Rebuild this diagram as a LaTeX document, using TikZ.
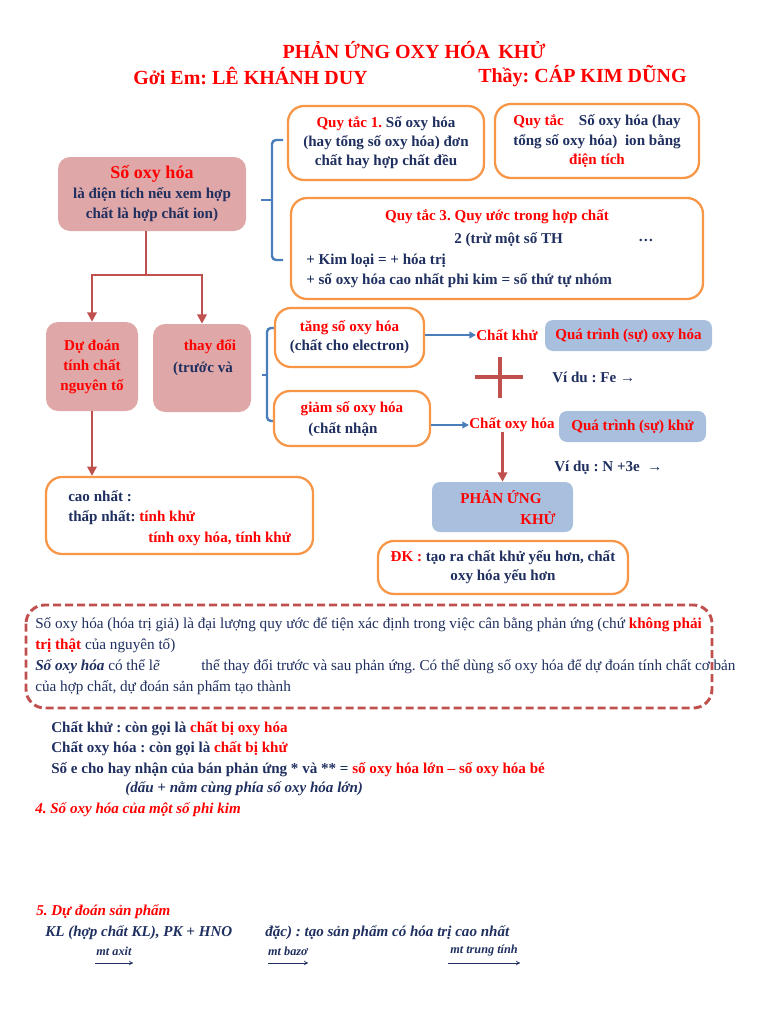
\documentclass[tikz,border=0pt]{standalone}
\usepackage{fontspec}
\setmainfont{Liberation Serif}
\usetikzlibrary{arrows.meta,positioning}
\frenchspacing
\newlength\px
\setlength\px{0.75pt}
\definecolor{navy}{RGB}{31,47,95}
\definecolor{hotred}{RGB}{255,0,0}
\definecolor{rosefill}{RGB}{223,167,167}
\definecolor{skyfill}{RGB}{168,191,222}
\definecolor{ruleorange}{RGB}{247,150,70}
\definecolor{braceblue}{RGB}{74,126,187}
\definecolor{darkred}{RGB}{192,80,77}
\tikzset{
  rose box/.style   = {rounded corners=9, fill=rosefill, inner sep=0pt, align=center,
                       text=navy, font=\bfseries\fontsize{11.3}{15}\selectfont},
  rule box/.style   = {rounded corners=12, draw=ruleorange, line width=1.7pt, fill=white,
                       inner sep=0pt, align=center, text=navy,
                       font=\bfseries\fontsize{11.3}{14.3}\selectfont},
  sky box/.style    = {rounded corners=6, fill=skyfill, inner sep=0pt, text=hotred,
                       font=\bfseries\fontsize{11.3}{14.3}\selectfont},
  body text/.style  = {inner sep=0pt, text=navy, font=\bfseries\fontsize{11.3}{14.3}\selectfont},
  red text/.style   = {inner sep=0pt, text=hotred, font=\bfseries\fontsize{11.3}{14.3}\selectfont},
  plain text/.style = {inner sep=0pt, text=navy, font=\fontsize{11.4}{14}\selectfont},
  slant text/.style = {inner sep=0pt, text=navy, font=\bfseries\itshape\fontsize{11.3}{14.3}\selectfont},
  tiny text/.style  = {inner sep=0pt, text=navy, font=\bfseries\itshape\fontsize{9.2}{10}\selectfont},
  head text/.style  = {inner sep=0pt, text=hotred, font=\bfseries\fontsize{15}{18}\selectfont},
  red arrow/.style  = {-{Triangle[length=7pt,width=7pt]}, draw=darkred, line width=1.7pt},
  red line/.style   = {draw=darkred, line width=1.7pt},
  blue arrow/.style = {-{Triangle[length=5pt,width=5pt]}, draw=braceblue, line width=1.6pt},
  thin arrow/.style = {-{To[length=3pt,width=3.5pt]}, draw=navy, line width=0.6pt},
  brace line/.style = {draw=braceblue, line width=1.8pt, rounded corners=3},
  plus line/.style  = {draw=darkred, line width=2.4pt},
}

\begin{document}
\begin{tikzpicture}[x=0.75pt,y=-0.75pt]
  \useasboundingbox (0,0) rectangle (768,1024);

  % heading
  \node[head text] (title) at (414,50) {PHẢN ỨNG OXY HÓA\, KHỬ};
  \node[head text,anchor=west] (student) at (133,76) {Gởi Em: LÊ KHÁNH DUY};
  \node[head text,anchor=west] (teacher) at (478,76) {Thầy: CÁP KIM DŨNG};

  % definition and rules
  \node[rose box,minimum width=188\px,minimum height=74\px] (ox) at (152,194)
       {{\color{hotred}\fontsize{13.5}{17}\selectfont Số oxy hóa}\\là điện tích nếu xem hợp\\chất là hợp chất ion)};
  \draw[brace line] (283,140) -- (272,140) -- (272,260) -- (283,260);
  \draw[brace line] (272,200) -- (261,200);
  \node[rule box,minimum width=196\px,minimum height=74\px] (rule1) at (386,143)
       {{\color{hotred}Quy tắc 1.} Số oxy hóa\\(hay tổng số oxy hóa) đơn\\chất hay hợp chất đều};
  \node[rule box,minimum width=204\px,minimum height=74\px] (rule2) at (597,141)
       {{\color{hotred}Quy tắc}\quad Số oxy hóa (hay\\tổng số oxy hóa)\ \ ion bằng\\{\color{hotred}điện tích}};
  \node[rule box,minimum width=412\px,minimum height=101\px] (rule3) at (497,248.5) {};
  \node[red text] (rule3a) at (497,217) {Quy tắc 3. Quy ước trong hợp chất};
  \node[body text,anchor=west] (rule3b) at (454,240) {2 (trừ một số TH};
  \node[body text] (rule3c) at (646,240) {…};
  \node[body text,anchor=west] (rule3d) at (306,261) {+ Kim loại = + hóa trị};
  \node[body text,anchor=west] (rule3e) at (306,281) {+ số oxy hóa cao nhất phi kim = số thứ tự nhóm};

  % uses
  \node[rose box,minimum width=92\px,minimum height=89\px,text=hotred] (guess) at (92,366.5)
       {Dự đoán\\tính chất\\nguyên tố};
  \node[rose box,minimum width=98\px,minimum height=88\px] (change) at (202,368) {};
  \node[red text] (changea) at (210,347) {thay đổi};
  \node[body text] (changeb) at (203,369) {(trước và};
  \coordinate (split) at (146,275);
  \draw[red line] (split |- ox.south) -- (split);
  \draw[red arrow] (split) -| (guess.north);
  \draw[red arrow] (split) -| (change.north);

  % increase / decrease
  \draw[brace line] (276,328) -- (267,328) -- (267,421) -- (276,421);
  \draw[brace line] (267,375) -- (262,375);
  \node[rule box,minimum width=149\px,minimum height=59\px] (up) at (349.5,337.5)
       {{\color{hotred}tăng số oxy hóa}\\(chất cho electron)};
  \node[rule box,minimum width=156\px,minimum height=55\px] (down) at (352,418.5) {};
  \node[red text] (downa) at (352,409) {giảm số oxy hóa};
  \node[body text] (downb) at (343,430) {(chất nhận};

  \node[red text,anchor=west] (reducer) at (476,335) {Chất khử};
  \draw[blue arrow] (up.east |- reducer.west) -- (reducer.west);
  \node[sky box,minimum width=167\px,minimum height=31\px] (oxproc) at (628.5,335.5) {Quá trình (sự) oxy hóa};

  \draw[plus line] (475,377) -- (523,377);
  \draw[plus line] (500,357) -- (500,398);
  \node[body text,anchor=west] (exfe) at (552,377) {Ví du : Fe →};

  \node[red text,anchor=west] (oxidant) at (469,425) {Chất oxy hóa};
  \draw[blue arrow] (down.east |- oxidant.west) -- (oxidant.west);
  \node[sky box,minimum width=147\px,minimum height=31\px] (redproc) at (632.5,426.5) {Quá trình (sự) khử};
  \node[body text,anchor=west] (exn) at (554,468) {Ví dụ : N +3e\ \ →};

  % reaction
  \node[sky box,minimum width=141\px,minimum height=50\px] (redox) at (502.5,507) {};
  \node[red text] (redoxa) at (501,497) {PHẢN ỨNG};
  \node[red text] (redoxb) at (538,518) {KHỬ};
  \draw[red arrow] (redox.north |- oxidant.south) -- (redox.north);
  \node[rule box,minimum width=250\px,minimum height=53\px] (cond) at (503,567.5)
       {{\color{hotred}ĐK :} tạo ra chất khử yếu hơn, chất\\oxy hóa yếu hơn};

  % highest / lowest
  \node[rule box,minimum width=267\px,minimum height=77\px] (extreme) at (179.5,515.5) {};
  \draw[red arrow] (guess.south) -- (guess.south |- extreme.north);
  \node[body text,anchor=west] (high) at (68,496) {cao nhất :};
  \node[body text,anchor=west] (low) at (68,518) {thấp nhất: {\color{hotred}tính khử}};
  \node[red text,anchor=west] (mid) at (148,539) {tính oxy hóa, tính khử};

  % note
  \draw[draw=darkred,line width=2.2pt,rounded corners=14,dash pattern=on 6pt off 3pt] (26,605) rectangle (712,708);
  \node[plain text,anchor=west] (note1) at (35,625)
       {Số oxy hóa (hóa trị giả) là đại lượng quy ước để tiện xác định trong việc cân bằng phản ứng (chứ {\bfseries\color{hotred}không phải}};
  \node[plain text,anchor=west] (note2) at (35,646) {{\bfseries\color{hotred}trị thật} của nguyên tố)};
  \node[plain text,anchor=west] (note3) at (35,667) {{\bfseries\itshape Số oxy hóa} có thể l{\itshape ẽ}};
  \node[plain text,anchor=west] (note4) at (201,667)
       {thể thay đổi trước và sau phản ứng. Có thể dùng số oxy hóa để dự đoán tính chất cơ bản};
  \node[plain text,anchor=west] (note5) at (35,688) {của hợp chất, dự đoán sản phẩm tạo thành};

  % remarks
  \node[body text,anchor=west] (rem1) at (51,729) {Chất khử : còn gọi là {\color{hotred}chất bị oxy hóa}};
  \node[body text,anchor=west] (rem2) at (51,749) {Chất oxy hóa : còn gọi là {\color{hotred}chất bị khử}};
  \node[body text,anchor=west] (rem3) at (51,770)
       {Số e cho hay nhận của bán phản ứng * và ** = {\color{hotred}số oxy hóa lớn – số oxy hóa bé}};
  \node[slant text,anchor=west] (rem4) at (125,789) {(dấu + nằm cùng phía số oxy hóa lớn)};
  \node[slant text,anchor=west,text=hotred] (sec4) at (35,810) {4. Số oxy hóa của một số phi kim};

  % products
  \node[slant text,anchor=west,text=hotred] (sec5) at (36,912) {5. Dự đoán sản phẩm};
  \node[slant text,anchor=west] (prod1) at (45,933) {KL (hợp chất KL), PK + HNO};
  \node[slant text,anchor=west] (prod2) at (265,933) {đặc) : tạo sản phẩm có hóa trị cao nhất};

  \node[tiny text] (acid) at (114,951) {mt axit};
  \coordinate (acidL) at (95,963);
  \coordinate (acidR) at (133,963);
  \draw[thin arrow] (acidL) -- (acidR);
  \node[tiny text] (base) at (288,951) {mt bazơ};
  \coordinate (baseL) at (268,963);
  \coordinate (baseR) at (308,963);
  \draw[thin arrow] (baseL) -- (baseR);
  \node[tiny text] (neutral) at (484,951) {mt trung tính};
  \coordinate (neutralL) at (448,963);
  \coordinate (neutralR) at (520,963);
  \draw[thin arrow] (neutralL) -- (neutralR);
\end{tikzpicture}
\end{document}
